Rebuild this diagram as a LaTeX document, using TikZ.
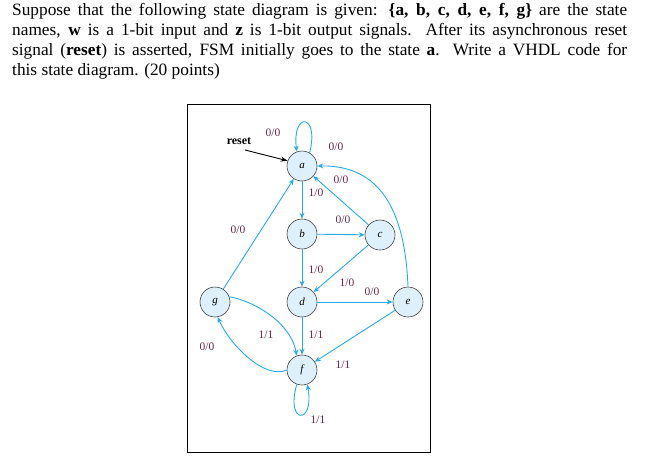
\documentclass[tikz,border=0pt]{standalone}
\usepackage{fontspec}
\setmainfont{Liberation Serif}
\usetikzlibrary{arrows.meta}
\definecolor{arr}{RGB}{40,170,230}
\definecolor{stfill}{RGB}{222,240,252}
\definecolor{lab}{RGB}{100,40,70}
\begin{document}
\begin{tikzpicture}[x=1pt,y=-1pt,
  st/.style={circle,draw=black!75,fill=stfill,line width=0.6pt,minimum size=30pt,inner sep=0pt,font=\itshape\fontsize{11}{12}\selectfont},
  tr/.style={draw=arr,line width=0.9pt,-{Stealth[length=6pt,width=5pt]}},
  lb/.style={font=\fontsize{11.5}{12}\selectfont,text=lab,inner sep=0pt}]
\useasboundingbox (0,0) rectangle (648,475);
\node[anchor=north west,text width=615pt,align=justify,inner sep=0pt,font=\fontsize{17.3}{20}\selectfont] (txt) at (12,3)
{Suppose that the following state diagram is given: \textbf{\{a, b, c, d, e, f, g\}} are the state\linebreak names, \textbf{w} is a 1-bit input and \textbf{z} is 1-bit output signals. After its asynchronous reset\linebreak signal (\textbf{reset}) is asserted, FSM initially goes to the state \textbf{a}. Write a VHDL code for\linebreak this state diagram. (20 points)\par};
\draw[black,line width=0.5pt] (187,104) rectangle (430,452);
\node[st] (a) at (302,166) {a};
\node[st] (b) at (302,234) {b};
\node[st] (c) at (380,235) {c};
\node[st] (d) at (302,302) {d};
\node[st] (e) at (408,302) {e};
\node[st] (g) at (215,302) {g};
\node[st] (f) at (302,370) {f};
\node[font=\bfseries\fontsize{12}{13}\selectfont,inner sep=0pt] (rs) at (239,141) {reset};
\coordinate (rst) at (245,150);
\draw[-{Stealth[length=7pt,width=5pt]},line width=0.9pt] (rst) -- (a.160);
\draw[tr] (a.60) .. controls +(10,-40) and +(-5,-40) .. (a.110);
\draw[tr] (a) -- (b);
\draw[tr] (b) -- (c);
\draw[tr] (b) -- (d);
\draw[tr] (c) -- (a);
\draw[tr] (c) -- (d);
\draw[tr] (d) -- (e);
\draw[tr] (d) -- (f);
\draw[tr] (e) -- (f);
\draw[tr] (g) -- (a);
\draw[tr] (e.north) .. controls (405,210) and (380,165) .. (a.east);
\draw[tr] (g.20) .. controls (250,300) and (290,320) .. (f.110);
\draw[tr] (f.180) .. controls (265,380) and (230,345) .. (g.280);
\draw[tr] (f.250) .. controls (285,425) and (315,425) .. (f.290);
\node[lb] at (273,133) {0/0};
\node[lb] at (336,147) {0/0};
\node[lb] at (341,180) {0/0};
\node[lb] at (316,193) {1/0};
\node[lb] at (343,220) {0/0};
\node[lb] at (238,230) {0/0};
\node[lb] at (316,270) {1/0};
\node[lb] at (347,283) {1/0};
\node[lb] at (372,292) {0/0};
\node[lb] at (266,335) {1/1};
\node[lb] at (316,335) {1/1};
\node[lb] at (207,347) {0/0};
\node[lb] at (343,365) {1/1};
\node[lb] at (318,420) {1/1};
\end{tikzpicture}
\end{document}
